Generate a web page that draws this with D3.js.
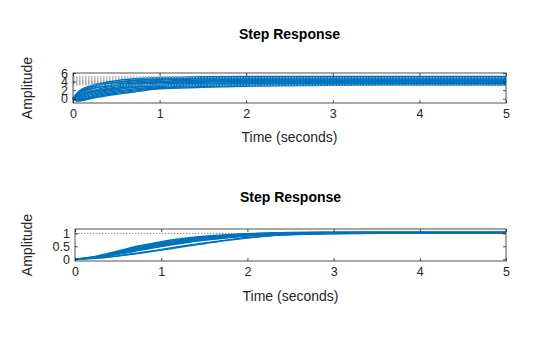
<!DOCTYPE html>
<html>
<head>
<meta charset="utf-8">
<script src="https://cdn.jsdelivr.net/npm/d3@7"></script>
<style>
  html, body { margin: 0; padding: 0; background: #fff; }
  svg { display: block; font-family: "Liberation Sans", Arial, Helvetica, sans-serif; }
</style>
</head>
<body>
<svg id="chart" width="560" height="337"></svg>
<script>
// ---- Upper panel: step responses of the uncertain plant (many samples) ----
const timeA = [0, 0.05, 0.1, 0.2, 0.3, 0.5, 0.75, 1, 1.5, 2, 3, 4, 5];
const respA = [
  [0, 1.4, 2.2, 3.0, 3.5, 4.2, 4.7, 4.95, 5.12, 5.18, 5.2, 5.2, 5.2],
  [0, 1.3, 2.0, 2.7, 3.2, 3.8, 4.3, 4.55, 4.78, 4.86, 4.9, 4.9, 4.9],
  [0, 1.1, 1.8, 2.6, 3.1, 3.8, 4.35, 4.65, 4.9, 4.97, 5.0, 5.0, 5.0],
  [0, 0.9, 1.5, 2.2, 2.7, 3.4, 3.95, 4.3, 4.6, 4.72, 4.79, 4.8, 4.8],
  [0, 0.6, 1.1, 1.8, 2.3, 3.0, 3.6, 4.0, 4.35, 4.5, 4.58, 4.6, 4.6],
  [0, 0.3, 0.8, 1.5, 2.0, 2.7, 3.3, 3.7, 4.1, 4.28, 4.38, 4.4, 4.4],
  [0, 0.1, 0.5, 1.2, 1.7, 2.4, 3.0, 3.4, 3.85, 4.05, 4.17, 4.2, 4.2],
  [0, 1.0, 1.6, 2.3, 2.7, 3.2, 3.6, 3.8, 4.0, 4.06, 4.1, 4.1, 4.1],
  [0, -0.1, 0.2, 0.9, 1.4, 2.1, 2.7, 3.1, 3.6, 3.82, 3.96, 4.0, 4.0],
  [0, -0.25, 0.0, 0.6, 1.1, 1.8, 2.4, 2.85, 3.3, 3.58, 3.75, 3.8, 3.8],
  [0, -0.4, -0.2, 0.35, 0.85, 1.5, 2.1, 2.6, 3.1, 3.35, 3.55, 3.6, 3.6],
  [0, 0.5, 0.9, 1.5, 1.9, 2.4, 2.85, 3.1, 3.35, 3.45, 3.5, 3.5, 3.5],
  [0, -0.5, -0.35, 0.15, 0.6, 1.25, 1.9, 2.45, 2.85, 3.12, 3.35, 3.4, 3.4],
  [0, -0.55, -0.45, 0.0, 0.4, 1.05, 1.7, 2.3, 2.65, 2.92, 3.15, 3.2, 3.2]
];
const finalA = [5.2, 4.9, 5.0, 4.8, 4.6, 4.4, 4.2, 4.1, 4.0, 3.8, 3.6, 3.5, 3.4, 3.2];
const xTicksA = [0, 1, 2, 3, 4, 5];
const yTicksA = [0, 2, 4, 6];

// ---- Lower panel: closed-loop step responses ----
const timeB = [0, 0.25, 0.5, 0.75, 1, 1.25, 1.5, 1.75, 2, 2.25, 2.5, 3, 3.5, 4, 5];
const respB = [
  [0, 0.12, 0.32, 0.52, 0.68, 0.80, 0.89, 0.95, 0.99, 1.02, 1.04, 1.05, 1.05, 1.05, 1.05],
  [0, 0.11, 0.30, 0.49, 0.65, 0.77, 0.87, 0.93, 0.975, 1.005, 1.025, 1.04, 1.045, 1.045, 1.045],
  [0, 0.10, 0.28, 0.46, 0.62, 0.74, 0.85, 0.91, 0.96, 0.995, 1.015, 1.035, 1.04, 1.04, 1.04],
  [0, 0.09, 0.26, 0.43, 0.59, 0.72, 0.83, 0.90, 0.95, 0.985, 1.005, 1.03, 1.035, 1.035, 1.035],
  [0, 0.08, 0.24, 0.40, 0.56, 0.69, 0.80, 0.88, 0.94, 0.975, 1.0, 1.02, 1.03, 1.03, 1.03],
  [0, 0.07, 0.22, 0.38, 0.53, 0.66, 0.77, 0.86, 0.92, 0.96, 0.99, 1.015, 1.025, 1.025, 1.025],
  [0, 0.065, 0.20, 0.36, 0.51, 0.64, 0.75, 0.84, 0.91, 0.955, 0.985, 1.01, 1.02, 1.02, 1.02],
  [0, 0.06, 0.19, 0.34, 0.49, 0.62, 0.73, 0.82, 0.90, 0.945, 0.975, 1.005, 1.015, 1.015, 1.015],
  [0, 0.04, 0.13, 0.25, 0.38, 0.51, 0.63, 0.74, 0.84, 0.91, 0.955, 0.995, 1.01, 1.01, 1.01],
  [0, 0.035, 0.12, 0.23, 0.35, 0.48, 0.60, 0.72, 0.82, 0.90, 0.945, 0.985, 1.0, 1.005, 1.005]
];
const finalB = 1;
const xTicksB = [0, 1, 2, 3, 4, 5];
const yTicksB = [0, 0.5, 1];

const titleText = "Step Response";
const xLabelText = "Time (seconds)";
const yLabelText = "Amplitude";

const svg = d3.select("#chart");
const axisColor = "#262626";
const lineColor = "#0072BD";

function panel(opts) {
  const { left, right, top, bottom, xDomain, yDomain, xTicks, yTicks,
          titleY, xLabelY, yLabelX, draw } = opts;
  const x = d3.scaleLinear().domain(xDomain).range([left, right]);
  const y = d3.scaleLinear().domain(yDomain).range([bottom, top]);
  const g = svg.append("g");

  const plot = g.append("g");
  draw(plot, x, y);

  // box
  g.append("rect")
    .attr("x", left).attr("y", top)
    .attr("width", right - left).attr("height", bottom - top)
    .attr("fill", "none").attr("stroke", axisColor).attr("stroke-width", 0.8);

  const fmt = d3.format("~g");
  const axB = g.append("g").attr("transform", `translate(0,${bottom})`)
    .call(d3.axisBottom(x).tickValues(xTicks).tickSize(-3).tickPadding(6).tickFormat(fmt));
  const axT = g.append("g").attr("transform", `translate(0,${top})`)
    .call(d3.axisTop(x).tickValues(xTicks).tickSize(-3).tickFormat(""));
  const axL = g.append("g").attr("transform", `translate(${left},0)`)
    .call(d3.axisLeft(y).tickValues(yTicks).tickSize(-3).tickPadding(5).tickFormat(fmt));
  const axR = g.append("g").attr("transform", `translate(${right},0)`)
    .call(d3.axisRight(y).tickValues(yTicks).tickSize(-3).tickFormat(""));
  [axB, axT, axL, axR].forEach(a => {
    a.select(".domain").remove();
    a.selectAll("line").attr("stroke", axisColor).attr("stroke-width", 0.8);
    a.selectAll("text").attr("fill", axisColor)
      .style("font-family", '"Liberation Sans", Arial, sans-serif')
      .style("font-size", "12.5px");
  });

  const cx = (left + right) / 2;
  g.append("text").attr("x", cx).attr("y", titleY)
    .attr("text-anchor", "middle").attr("fill", "#000")
    .style("font-weight", "bold").style("font-size", "14px").text(titleText);
  g.append("text").attr("x", cx).attr("y", xLabelY)
    .attr("text-anchor", "middle").attr("fill", axisColor)
    .style("font-size", "14px").text(xLabelText);
  const cy = (top + bottom) / 2;
  g.append("text")
    .attr("transform", `translate(${yLabelX},${cy}) rotate(-90)`)
    .attr("text-anchor", "middle").attr("fill", axisColor)
    .style("font-size", "14px").text(yLabelText);
}

// upper panel
panel({
  left: 73, right: 506, top: 73, bottom: 103,
  xDomain: [0, 5], yDomain: [-1, 6],
  xTicks: xTicksA, yTicks: yTicksA,
  titleY: 39, xLabelY: 142, yLabelX: 32,
  draw: (g, x, y) => {
    const steady = (k, color, w) => g.append("line")
      .attr("x1", x(0)).attr("x2", x(5))
      .attr("y1", y(finalA[k])).attr("y2", y(finalA[k]))
      .attr("stroke", color).attr("stroke-width", w)
      .attr("stroke-dasharray", "1.5,1.5");
    // steady-state levels behind the responses
    finalA.forEach((v, k) => steady(k, "#8c8c8c", 0.6));
    const line = d3.line().x((d, i) => x(timeA[i])).y(d => y(d)).curve(d3.curveMonotoneX);
    respA.forEach(r => {
      g.append("path").attr("d", line(r))
        .attr("fill", "none").attr("stroke", lineColor).attr("stroke-width", 1.4);
    });
    // outermost steady-state markers stay visible over the band
    steady(1, "#e4ecf5", 0.7);
    steady(finalA.length - 1, "#e4ecf5", 0.7);
  }
});

// lower panel
panel({
  left: 75, right: 506, top: 229, bottom: 261,
  xDomain: [0, 5], yDomain: [-0.07, 1.17],
  xTicks: xTicksB, yTicks: yTicksB,
  titleY: 202, xLabelY: 301, yLabelX: 32,
  draw: (g, x, y) => {
    g.append("line")
      .attr("x1", x(0)).attr("x2", x(5))
      .attr("y1", y(finalB)).attr("y2", y(finalB))
      .attr("stroke", "#555").attr("stroke-width", 0.7)
      .attr("stroke-dasharray", "1.5,1.5");
    const line = d3.line().x((d, i) => x(timeB[i])).y(d => y(d)).curve(d3.curveMonotoneX);
    respB.forEach(r => {
      g.append("path").attr("d", line(r))
        .attr("fill", "none").attr("stroke", lineColor).attr("stroke-width", 1.4);
    });
  }
});
</script>
</body>
</html>
